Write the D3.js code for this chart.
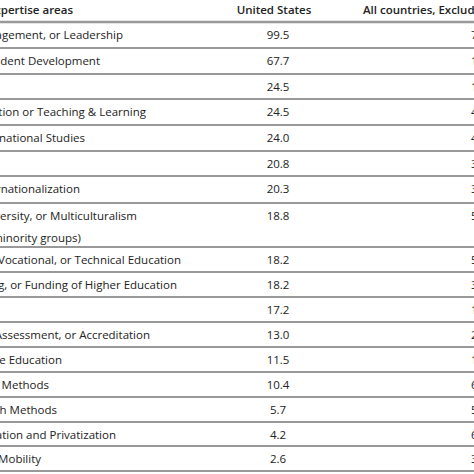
<!DOCTYPE html><html><head><meta charset="utf-8"><script src="https://cdn.jsdelivr.net/npm/d3@7"></script>
<style>body{margin:0;background:#fff}text{font-family:"Open Sans",sans-serif;fill:#222}</style></head><body><svg id="c" width="474" height="474"></svg>
<script>
const labels=[["Administration, Management, or Leadership"],["Student Affairs or Student Development"],["Policy"],["Curriculum, Instruction or Teaching & Learning"],["Comparative or International Studies"],["Economics"],["Globalization or Internationalization"],["Access, Equity, Diversity, or Multiculturalism","(including minority groups)"],["Community College, Vocational, or Technical Education"],["Economics, Financing, or Funding of Higher Education"],["Law"],["Evaluation, Assessment, or Accreditation"],["Comparative Education"],["Quantitative Methods"],["Qualitative Research Methods"],["Marketization and Privatization"],["Student Mobility"]];
const labelEnds=[123,100,0,146,85,0,80,137,181,177,0,150,62,49,57,116,41];
const us=["99.5","67.7","24.5","24.5","24.0","20.8","20.3","18.8","18.2","18.2","17.2","13.0","11.5","10.4","5.7","4.2","2.6"];
const other=["75.1","14.2","17.3","40.5","44.1","30.6","30.2","5.4","5.9","31.5","17.6","25.3","17.9","6.8","5.3","6.3","3.0"];
const headers=["Expertise areas","United States","All countries, Excluding U.S."];
const svg=d3.select("#c");
const lineTop=[22,48,74,99,125,151,176,203,247,272,297,322,347,372,397,422,446,471];
const y=d3.scaleLinear().domain([0,1]).range([0,1]);
const fs=11.5;
svg.append("text").attr("x",73).attr("y",14).attr("text-anchor","end").attr("font-size",fs).attr("font-weight",600).text(headers[0]);
svg.append("text").attr("x",274).attr("y",14).attr("text-anchor","middle").attr("font-size",fs).attr("font-weight",600).text(headers[1]);
svg.append("text").attr("x",363).attr("y",14).attr("font-size",fs).attr("font-weight",600).text(headers[2]);
lineTop.forEach((v,i)=>svg.append("line").attr("x1",0).attr("x2",474).attr("y1",y(v)).attr("y2",y(v)).attr("stroke","#999").attr("stroke-width",i==0?2.5:1.8));
labels.forEach((l,i)=>{
  const t=lineTop[i];
  l.forEach((s,j)=>{
    const tx=svg.append("text").attr("y",t+17+j*22).attr("font-size",fs).text(s);
    if(labelEnds[i]>0){const end=j==0?labelEnds[i]:81;tx.attr("x",end).attr("text-anchor","end");}
    else tx.attr("x",-300);
  });
  svg.append("text").attr("x",278).attr("y",t+17).attr("text-anchor","middle").attr("font-size",fs).text(us[i]);
  svg.append("text").attr("x",471).attr("y",t+17).attr("font-size",fs).text(other[i]);
});
</script></body></html>
